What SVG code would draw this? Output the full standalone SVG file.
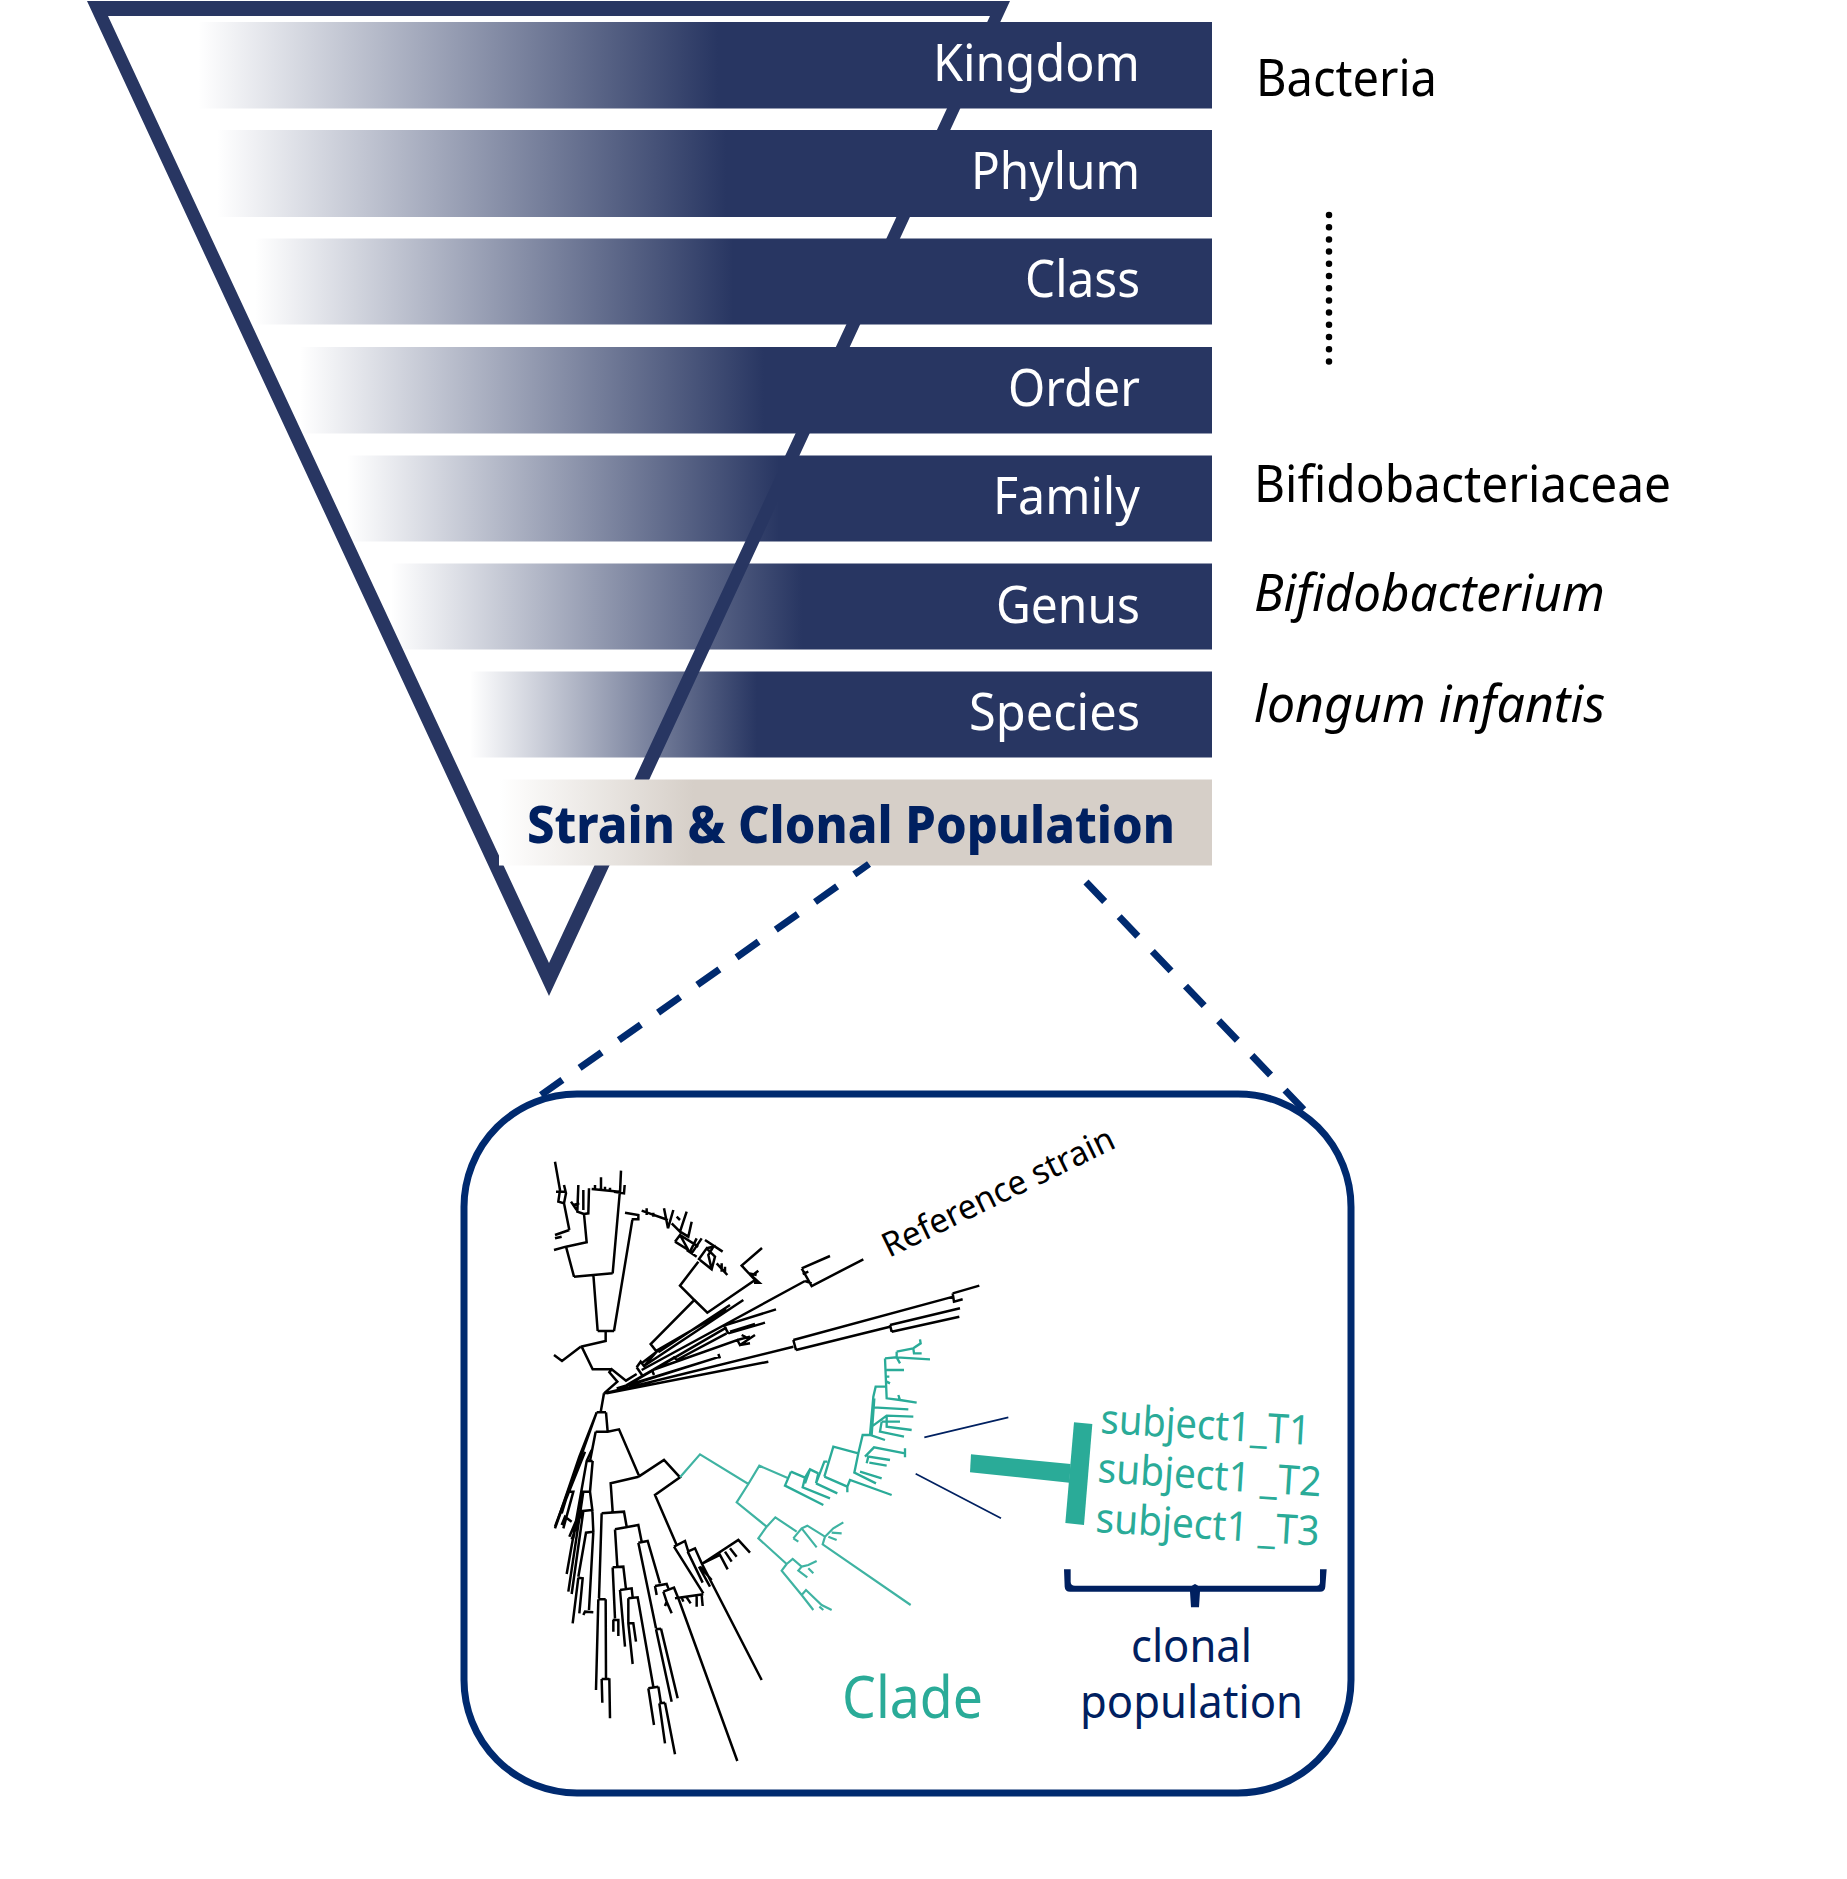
<svg xmlns="http://www.w3.org/2000/svg" width="1847" height="1879" viewBox="0 0 1847 1879">
<style>
text{font-family:"Noto Sans","Open Sans","Liberation Sans",sans-serif}
.rank{fill:#fff;font-size:51px}
.side{fill:#000;font-size:51px}
.it{font-style:italic}
.teal{fill:#2aab98}
.navy{fill:#002060}
.k{fill:none;stroke:#000;stroke-width:7.5;stroke-linejoin:miter}
.t{fill:none;stroke:#2aab98;stroke-width:7;stroke-linejoin:miter}
.t2{fill:none;stroke:#3fb3a2;stroke-width:6.5}
.dash{fill:none;stroke:#002a6f;stroke-width:7;stroke-dasharray:27 21}
</style>
<defs>
<linearGradient id="gK" gradientUnits="userSpaceOnUse" x1="198" x2="718" y1="0" y2="0"><stop offset="0" stop-color="#283662" stop-opacity="0"/><stop offset="1" stop-color="#283662"/></linearGradient>
<linearGradient id="gP" gradientUnits="userSpaceOnUse" x1="217" x2="726" y1="0" y2="0"><stop offset="0" stop-color="#283662" stop-opacity="0"/><stop offset="1" stop-color="#283662"/></linearGradient>
<linearGradient id="gC" gradientUnits="userSpaceOnUse" x1="255" x2="733" y1="0" y2="0"><stop offset="0" stop-color="#283662" stop-opacity="0"/><stop offset="1" stop-color="#283662"/></linearGradient>
<linearGradient id="gO" gradientUnits="userSpaceOnUse" x1="300" x2="764" y1="0" y2="0"><stop offset="0" stop-color="#283662" stop-opacity="0"/><stop offset="1" stop-color="#283662"/></linearGradient>
<linearGradient id="gF" gradientUnits="userSpaceOnUse" x1="347" x2="779" y1="0" y2="0"><stop offset="0" stop-color="#283662" stop-opacity="0"/><stop offset="1" stop-color="#283662"/></linearGradient>
<linearGradient id="gG" gradientUnits="userSpaceOnUse" x1="391" x2="802" y1="0" y2="0"><stop offset="0" stop-color="#283662" stop-opacity="0"/><stop offset="1" stop-color="#283662"/></linearGradient>
<linearGradient id="gS" gradientUnits="userSpaceOnUse" x1="470" x2="757" y1="0" y2="0"><stop offset="0" stop-color="#283662" stop-opacity="0"/><stop offset="1" stop-color="#283662"/></linearGradient>
<linearGradient id="gB" gradientUnits="userSpaceOnUse" x1="499" x2="694" y1="0" y2="0"><stop offset="0" stop-color="#fff"/><stop offset="1" stop-color="#d6cfc8"/></linearGradient>
</defs>

<g id="funnel"><path fill="#283662" fill-rule="evenodd" d="M87,1H1010L549,996ZM108,16L549,963L990,16Z"/></g>

<g id="rank-kingdom"><rect x="196" y="22" width="1016" height="86.500" fill="url(#gK)"/><text class="rank" x="933" y="81" textLength="207" lengthAdjust="spacingAndGlyphs">Kingdom</text></g>
<g id="rank-phylum"><rect x="215" y="130" width="997" height="87" fill="url(#gP)"/><text class="rank" x="971" y="189" textLength="169" lengthAdjust="spacingAndGlyphs">Phylum</text></g>
<g id="rank-class"><rect x="255" y="238.500" width="957" height="86" fill="url(#gC)"/><text class="rank" x="1025" y="297" textLength="115" lengthAdjust="spacingAndGlyphs">Class</text></g>
<g id="rank-order"><rect x="300" y="347" width="912" height="86.500" fill="url(#gO)"/><text class="rank" x="1008" y="406" textLength="132" lengthAdjust="spacingAndGlyphs">Order</text></g>
<g id="rank-family"><rect x="347" y="455.500" width="865" height="86" fill="url(#gF)"/><text class="rank" x="993" y="514" textLength="147" lengthAdjust="spacingAndGlyphs">Family</text></g>
<g id="rank-genus"><rect x="391" y="563.500" width="821" height="86" fill="url(#gG)"/><text class="rank" x="996" y="623" textLength="144" lengthAdjust="spacingAndGlyphs">Genus</text></g>
<g id="rank-species"><rect x="470" y="671.500" width="742" height="86" fill="url(#gS)"/><text class="rank" x="969" y="730" textLength="171" lengthAdjust="spacingAndGlyphs">Species</text></g>
<g id="rank-strain"><rect x="499" y="779.500" width="713" height="86" fill="url(#gB)"/><text class="navy" x="527" y="843" font-size="51" font-weight="800" textLength="648" lengthAdjust="spacingAndGlyphs">Strain &amp; Clonal Population</text></g>

<g id="labels">
<text class="side" x="1256" y="96" textLength="181" lengthAdjust="spacingAndGlyphs">Bacteria</text>
<text class="side" x="1254" y="502" textLength="417" lengthAdjust="spacingAndGlyphs">Bifidobacteriaceae</text>
<text class="side it" x="1254" y="611" textLength="351" lengthAdjust="spacingAndGlyphs">Bifidobacterium</text>
<text class="side it" x="1254" y="722" textLength="351" lengthAdjust="spacingAndGlyphs">longum infantis</text>
<line x1="1329" y1="215" x2="1329" y2="362" stroke="#000" stroke-width="6.500" stroke-linecap="round" stroke-dasharray="0 12.200"/>
</g>

<g id="connectors">
<line class="dash" x1="869" y1="864" x2="541" y2="1095" stroke-dashoffset="9"/>
<line class="dash" x1="1086" y1="882" x2="1304" y2="1110"/>
</g>

<g id="zoom-box"><rect x="464" y="1094" width="887" height="699" rx="113" ry="113" fill="none" stroke="#002a6f" stroke-width="7"/></g>

<g id="tree">
<g transform="translate(540 1140) scale(.33333)">
<path class="k" d="M122,620L66,663L42,645M122,620L197,603V575M173,573H222M173,573L160,403M222,573L277,240M102,410L218,400M102,410L78,320M218,400L240,150M78,320L42,330M78,320L140,307L132,222M132,222L112,215L115,135M132,222L145,220L147,145M130,210L130,150M93,185L110,210M100,195L118,190M88,270L72,190L55,185L60,150L45,65M72,190L78,160L72,135M88,270L45,285M45,295L65,290M48,155H78M222,155L252,160L254,135M240,158L243,92M155,147L238,155M183,112V150M165,135V150M195,140V150M210,143V152M255,218L295,225V238H275M305,212L384,240M320,205V225M340,218V230M384,265L372,205M384,265L400,210M395,250L420,275L440,215M420,240L410,230M420,275L445,290L455,245M405,305L420,285L445,330L405,305M420,285L475,320M455,340L485,295M450,335L470,295M475,360L500,325L525,350L515,388L480,360M495,300L548,335M500,325L520,320L505,345L515,388M530,370L562,405M545,370V395M555,380V395M440,330L470,350"/>
</g>
<g transform="translate(500 1120) scale(.33333)">
<path class="k" d="M312,820L352,785L328,757L335,748L378,782L410,762M335,748L278,748L245,680M410,742L428,768M410,742L422,725L432,738L470,695L452,672L583,540L540,497L595,425M583,540L622,578L765,480L725,437L786,384M425,730L470,695M475,697L690,555M470,692L680,570M432,738L730,540M752,465L778,488L762,488M752,470L775,452M745,460L770,465M360,808L680,622M672,617L685,640M672,617L828,568M685,640L795,608M690,635L765,612M380,795L523,712L530,720L680,640M530,720L540,715M455,748L462,765M458,750L712,660L720,675L765,645M712,660L750,650M720,675L750,670M725,645L745,655M390,795L660,710M655,702L660,715M315,820L880,680M880,660L888,690M880,660L1360,530M1358,520L1362,545L1388,538M1358,520L1438,497M888,690L1170,620M1170,615L1175,635M1170,615L1380,565M1175,635L1378,590M320,820L805,725M425,750L915,483M905,445L935,498L1090,418M905,445L990,408M915,483L935,490M908,462L925,455M350,805L660,710"/>
</g>
<g transform="translate(500 1360) scale(.33333)">
<path class="k" d="M312,100L302,157M290,157H318M290,157L238,290L170,490M290,157L245,283L165,505M318,157L323,215M287,215H323L357,208L416,345M287,215L270,303M416,350L332,370L338,455M416,350L492,300L540,352L465,405L530,555M305,460L372,455L380,500M305,460L297,715M345,508L415,495L425,545M345,508L352,620M415,548L443,543L480,670M415,548L468,805M295,718H317M295,718L288,990M317,718L318,955M305,957H328M305,957L307,1028M328,955L330,1075M338,622L370,620L378,688M338,622L345,775M360,690L395,685L398,712M360,690L375,860M385,715L413,712L460,980M385,715L385,790L398,912M385,790H400L408,845M468,808L483,806M468,808L515,1025M483,806L533,1015M445,985L475,980M445,985L462,1095M475,980L483,1030M478,1030L495,1028M478,1030L495,1150M495,1028L525,1183M338,780H355V828M340,780V815M465,678L500,672L505,685M465,678L470,705M490,695L522,683L537,720L712,1203M490,695L500,725L495,738M500,725L515,760M525,715L610,703M545,712L550,725M560,712L572,730M590,705V740M605,705L608,738M522,560L555,543L565,575M522,560L610,700M563,575L585,565L605,610L785,960M563,575L608,668M605,612L715,540L750,578M605,612L660,585L683,628M675,575L695,605M690,565L710,590M600,620L635,660M597,620L630,680"/>
</g>
<g transform="translate(540 1450) scale(.33333)">
<path class="k" d="M125,15L45,230M135,5L65,180M140,33H158M155,0L140,33L80,372M158,33L150,125H130L85,425M150,125L157,180L130,183L95,432M157,180L160,245L138,248L115,380M160,245L147,480M115,383L128,385L118,490M115,383L98,520M130,495L135,485L160,487M122,180L88,260M128,180L95,268M115,180L100,265M85,125H100L70,235M85,125L65,190M65,225L75,200L95,215"/>
</g>
<g transform="translate(500 1360) scale(.33333)">
<path class="t2" d="M540,352L600,283L745,372L778,317L865,355M745,372L710,427L800,500L826,472L890,515M800,500L775,535L860,612M880,535L905,505L922,497L975,530L968,553L1232,735M880,535L895,545M905,505L950,562M975,530L1000,505L1030,487M985,530L1010,540M995,518L1025,520M1005,500V505M860,612L845,632L905,705L918,690L965,735L995,750M860,612L878,597L905,620L895,632L922,652M905,620L925,615L950,603M925,625L940,640M905,705L940,750M958,740L970,750"/>
</g>
<g transform="translate(730 1320) scale(.33333)">
<path class="t" d="M183,455L165,497L280,555M183,455L225,473M225,473L218,502L300,535M225,473L240,448L265,460M240,448L225,490M258,490L322,520M258,490L283,425H292M265,460L258,490M283,470L310,380L385,400M283,470L352,500L360,480L485,525M352,500V517M385,400L398,345H420L465,360M385,400L373,458L438,490M390,455L455,475M405,410L432,382L525,400M525,385V412M410,430L415,410L480,420M418,428L470,437M420,345L430,230L437,200H468M425,345L433,235M465,115L470,235L510,240L560,248M505,225L510,240M465,115L500,112L510,130M500,95L550,85L552,100H575M550,85L572,70L570,58M500,112L600,118M500,95L500,112M470,150H522M468,170H478M470,185L480,190M430,262L535,268M425,320L470,287L550,290M470,287V320L545,330M455,305H510M455,305L450,335L522,350"/>
</g>
</g>

<g id="reference-label"><text x="889" y="1258" font-size="34" fill="#000" transform="rotate(-25.9 889 1258)" textLength="254" lengthAdjust="spacingAndGlyphs">Reference strain</text></g>

<g id="clone-marker" transform="translate(820 1300) scale(.33333)">
<path fill="#2aab98" d="M453,463L450,517L748,548L752,492Z"/>
<path fill="#2aab98" d="M762,367L817,372L792,675L736,669Z"/>
<path fill="none" stroke="#002060" stroke-width="5" d="M313,412L565,352M287,521L543,655"/>
<path fill="#002060" d="M732,808H752V845Q752,857 765,857H1115L1125,852L1135,857H1490Q1500,857 1500,845V808H1520L1516,860Q1515,875 1500,875H1140L1137,922H1113L1110,875H750Q735,875 734,860Z"/>
</g>

<g id="clone-labels">
<text class="teal" x="1100" y="1433" font-size="41" transform="rotate(3.3 1100 1433)" textLength="210" lengthAdjust="spacingAndGlyphs">subject1_T1</text>
<text class="teal" x="1097" y="1482" font-size="41" transform="rotate(3.7 1097 1482)" textLength="224" lengthAdjust="spacingAndGlyphs">subject1 _T2</text>
<text class="teal" x="1095" y="1532" font-size="41" transform="rotate(3.5 1095 1532)" textLength="224" lengthAdjust="spacingAndGlyphs">subject1 _T3</text>
<text class="teal" x="842" y="1718" font-size="58" textLength="141" lengthAdjust="spacingAndGlyphs">Clade</text>
<text class="navy" x="1131" y="1662" font-size="45" textLength="121" lengthAdjust="spacingAndGlyphs">clonal</text>
<text class="navy" x="1080" y="1718" font-size="45" textLength="223" lengthAdjust="spacingAndGlyphs">population</text>
</g>
</svg>
